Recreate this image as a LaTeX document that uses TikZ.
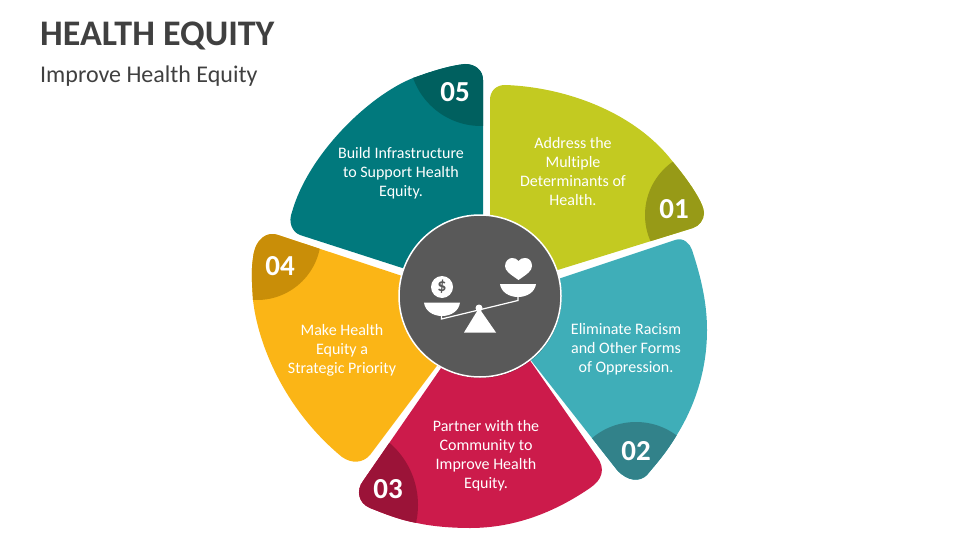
\documentclass[tikz,border=0pt]{standalone}
\usepackage{fontspec}
\setmainfont[Ligatures=CommonOff]{Carlito}
\usetikzlibrary{positioning,shadows}
\definecolor{limepetal}{HTML}{C3CA21}
\definecolor{limedark}{HTML}{979A17}
\definecolor{aquapetal}{HTML}{3FAEB8}
\definecolor{aquadark}{HTML}{32828A}
\definecolor{redpetal}{HTML}{CC1B4B}
\definecolor{reddark}{HTML}{9B1338}
\definecolor{amberpetal}{HTML}{FBB516}
\definecolor{amberdark}{HTML}{C98E08}
\definecolor{tealpetal}{HTML}{01797D}
\definecolor{tealdark}{HTML}{00605F}
\definecolor{hubgrey}{HTML}{595959}
\definecolor{titlegrey}{HTML}{404040}
\tikzset{textbox/.style={draw=none,color=white,align=center,inner sep=0pt,font=\fontsize{16}{19}\selectfont}}
\tikzset{numbox/.style={draw=none,color=white,inner sep=0pt,font=\fontsize{29}{29}\selectfont\bfseries}}
\newcommand{\petal}[5]{
        \fill[#1] #5;
        \begin{scope}
                \clip #5;
                \fill[#2] #3 circle (#4);
        \end{scope}
}
\begin{document}
\begin{tikzpicture}[x=1pt,y=-1pt]
        \useasboundingbox (0,0) rectangle (960,540);
        \node[color=titlegrey,inner sep=0pt,anchor=west,font=\fontsize{36}{36}\selectfont\bfseries] (title) at (40,36) {HEALTH EQUITY};
        \node[color=titlegrey,inner sep=0pt,font=\fontsize{24}{24}\selectfont,below=26pt of title.south west,anchor=west] (subtitle) {Improve Health Equity};

        \petal{limepetal}{limedark}{(710,215)}{65}{(490,291) -- (490,100) .. controls (490,91) and (496,85) .. (505,85) .. controls (565,87) and (635,112) .. (673,162) .. controls (688,180) and (704,203) .. (704,213) .. controls (704,220) and (699,226) .. (693,228) -- cycle}
        \petal{aquapetal}{aquadark}{(636,490)}{68}{(486,303) -- (675,240) .. controls (684,237) and (690,244) .. (692,250) .. controls (702,280) and (707,305) .. (707,330) .. controls (707,370) and (695,405) .. (678,433) .. controls (665,455) and (655,465) .. (647,475) .. controls (640,482) and (628,482) .. (617,470) -- cycle}
        \petal{redpetal}{reddark}{(336,505)}{82}{(488,300) -- (597,457) .. controls (606,469) and (602,480) .. (590,488) .. controls (555,512) and (515,528) .. (470,528) .. controls (450,528) and (430,526) .. (417,523) .. controls (400,520) and (385,514) .. (370,508) .. controls (358,503) and (356,490) .. (363,481) -- cycle}
        \petal{amberpetal}{amberdark}{(257,236)}{64}{(484,303) -- (278,235) .. controls (268,231) and (255,238) .. (253,258) .. controls (251,270) and (252,285) .. (253,300) .. controls (258,345) and (285,410) .. (342,457) .. controls (352,464) and (363,463) .. (370,455) -- cycle}
        \petal{tealpetal}{tealdark}{(481,54)}{72}{(483,294) -- (483,80) .. controls (483,70) and (475,64) .. (465,64) .. controls (447,66) and (430,72) .. (413,78) .. controls (368,96) and (308,155) .. (292,212) .. controls (288,222) and (292,232) .. (300,235) -- cycle}

        \node[numbox] (n1) at (674,209) {01};
        \node[numbox] (n2) at (636,451) {02};
        \node[numbox] (n3) at (388,489) {03};
        \node[numbox] (n4) at (280,266) {04};
        \node[numbox] (n5) at (455,92) {05};

        \node[textbox] (t1) at (573,171.5) {Address the\\Multiple\\Determinants of\\Health.};
        \node[textbox] (t2) at (626,349) {Eliminate Racism\\and Other Forms\\of Oppression.};
        \node[textbox] (t3) at (486,455.5) {Partner with the\\Community to\\Improve Health\\Equity.};
        \node[textbox] (t4) at (342,350) {Make Health\\Equity a\\Strategic Priority};
        \node[textbox] (t5) at (401,173) {Build Infrastructure\\to Support Health\\Equity.};

        \node[circle,fill=hubgrey,draw=white,line width=1.5pt,minimum size=162pt,inner sep=0pt,drop shadow={shadow xshift=0.5pt,shadow yshift=-1pt,opacity=0.45,fill=black}] (hub) at (480,296) {};

        % scale
        \fill[white] (424,302.5) -- (460,302.5) .. controls (459,311) and (451,316) .. (442,316) .. controls (433,316) and (425,311) .. (424,302.5) -- cycle;
        \fill[white] (500,284) -- (536,284) .. controls (535,292) and (527,297) .. (518,297) .. controls (509,297) and (501,292) .. (500,284) -- cycle;
        \draw[white,line width=1.2pt] (441.5,314) -- (441.5,319) -- (518,300.5) -- (518,295);
        \fill[white] (479,308) circle (3.5);
        \fill[white] (479,308) -- (496,332.5) -- (464,332.5) -- cycle;
        \node[circle,fill=white,minimum size=22pt,inner sep=0pt] (coin) at (442,287) {};
        \node[color=hubgrey,inner sep=0pt,font=\fontsize{18}{18}\selectfont\bfseries] (dollar) at (coin) {\$};
        \fill[white] (518.5,280) .. controls (510,274) and (505,271) .. (505,266) .. controls (505,261) and (509,258) .. (512,258) .. controls (515,258) and (517,259) .. (518.5,261) .. controls (520,259) and (522,258) .. (525,258) .. controls (529,258) and (532,261) .. (532,266) .. controls (532,271) and (527,274) .. (518.5,280) -- cycle;
\end{tikzpicture}
\end{document}
